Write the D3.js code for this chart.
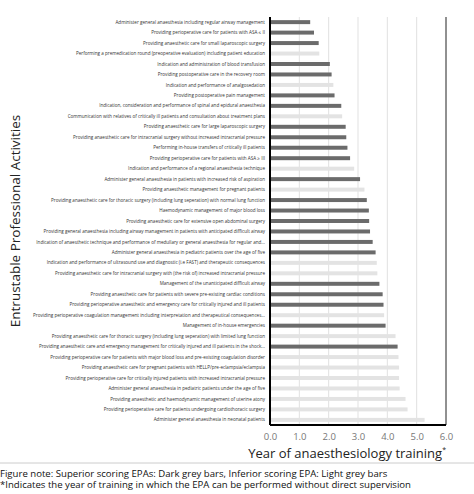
<!DOCTYPE html>
<html>
<head>
<meta charset="UTF-8">
<script src="https://d3js.org/d3.v7.min.js"></script>
<style>
  body { margin: 0; background: #fff; }
  text { font-family: "Open Sans", "DejaVu Sans", sans-serif; }
</style>
</head>
<body>
<script>
  // EPA labels (top to bottom)
  const labels = [
    "Administer general anaesthesia including regular airway management",
    "Providing perioperative care for patients with ASA ≤ II",
    "Providing anaesthetic care for small laparoscopic surgery",
    "Performing a premedication round (preoperative evaluation) including patient education",
    "Indication and administration of blood transfusion",
    "Providing postoperative care in the recovery room",
    "Indication and performance of analgosedation",
    "Providing postoperative pain management",
    "Indication, consideration and performance of spinal and epidural anaesthesia",
    "Communication with relatives of critically ill patients and consultation about treatment plans",
    "Providing anaesthetic care for large laparoscopic surgery",
    "Providing anaesthetic care for intracranial surgery without increased intracranial pressure",
    "Performing in-house transfers of critically ill patients",
    "Providing perioperative care for patients with ASA ≥ III",
    "Indication and performance of a regional anaesthesia technique",
    "Administer general anaesthesia in patients with increased risk of aspiration",
    "Providing anaesthetic management for pregnant patients",
    "Providing anaesthetic care for thoracic surgery (including lung seperation) with normal lung function",
    "Haemodynamic management of major blood loss",
    "Providing anaesthetic care for extensive open abdominal surgery",
    "Providing general anaesthesia including airway management in patients with anticipated difficult airway",
    "Indication of anaesthetic technique and performance of medullary or general anaesthesia for regular and...",
    "Administer general anaesthesia in pediatric patients over the age of five",
    "Indication and performance of ultrasound use and diagnostic (i.e FAST) and therapeutic consequences",
    "Providing anaesthetic care for intracranial surgery with (the risk of) increased intracranial pressure",
    "Management of the unanticipated difficult airway",
    "Providing anaesthetic care for patients with severe pre-existing cardiac conditions",
    "Providing perioperative anaesthetic and emergency care for critically injured and ill patients",
    "Providing perioperative coagulation management including interpretation and therapeutical consequences...",
    "Management of in-house emergencies",
    "Providing anaesthetic care for thoracic surgery (including lung seperation) with limited lung function",
    "Providing anaesthetic care and emergency management for critically injured and ill patients in the shock...",
    "Providing perioperative care for patients with major blood loss and pre-existing coagulation disorder",
    "Providing anaesthetic care for pregnant patients with HELLP/pre-eclampsia/eclampsia",
    "Providing perioperative care for critically injured patients with increased intracranial pressure",
    "Administer general anaesthesia in pediatric patients under the age of five",
    "Providing anaesthetic and haemodynamic management of uterine atony",
    "Providing perioperative care for patients undergoing cardiothoracic surgery",
    "Administer general anaesthesia in neonatal patients"
  ];
  // year of training
  const years = [1.37, 1.5, 1.66, 1.68, 2.04, 2.1, 2.16, 2.2, 2.43, 2.46, 2.58, 2.6, 2.64,
    2.73, 2.87, 3.07, 3.22, 3.3, 3.37, 3.38, 3.41, 3.5, 3.6, 3.64, 3.66, 3.73, 3.84, 3.87,
    3.89, 3.94, 4.28, 4.35, 4.38, 4.4, 4.4, 4.42, 4.62, 4.69, 5.27];
  // 1 = superior (dark), 0 = inferior (light)
  const superior = [1, 1, 1, 0, 1, 1, 0, 1, 1, 0, 1, 1, 1, 1, 0, 1, 0, 1, 1, 1, 1, 1, 1, 0, 0,
    1, 1, 1, 0, 1, 0, 1, 0, 0, 0, 0, 0, 0, 0];
  const xTicks = [0, 1, 2, 3, 4, 5, 6];

  const W = 474, H = 494;
  const mLeft = 270, mRight = 446, mTop = 17, mBottom = 425;

  const svg = d3.select("body").append("svg").attr("width", W).attr("height", H);

  const x = d3.scaleLinear().domain([0, 6]).range([mLeft, mRight]);
  const y = d3.scaleBand().domain(d3.range(labels.length)).range([mTop, mBottom]).paddingInner(0.62).paddingOuter(0.3);

  // gridlines
  svg.append("g").selectAll("line").data(xTicks.slice(1)).join("line")
    .attr("x1", d => x(d)).attr("x2", d => x(d))
    .attr("y1", mTop).attr("y2", mBottom)
    .attr("stroke", d => d === 6 ? "#222" : "#d9d9d9")
    .attr("stroke-width", d => d === 6 ? 1 : 0.8);

  // bars
  svg.append("g").selectAll("rect").data(years).join("rect")
    .attr("x", x(0) + 1)
    .attr("y", (d, i) => y(i))
    .attr("width", d => x(d) - x(0) - 1)
    .attr("height", y.bandwidth())
    .attr("fill", (d, i) => superior[i] ? "#6b6b6b" : "#e3e3e3");

  // category labels
  svg.append("g").selectAll("text").data(labels).join("text")
    .attr("x", mLeft - 5)
    .attr("y", (d, i) => y(i) + y.bandwidth() / 2)
    .attr("dy", "0.35em")
    .attr("text-anchor", "end")
    .attr("font-size", 4.6)
    .attr("fill", "#333")
    .text(d => d);

  // frame lines
  svg.append("line").attr("x1", mLeft).attr("x2", mLeft).attr("y1", mTop).attr("y2", mBottom)
    .attr("stroke", "#000").attr("stroke-width", 2);
  svg.append("line").attr("x1", mLeft).attr("x2", mRight).attr("y1", mBottom).attr("y2", mBottom)
    .attr("stroke", "#000").attr("stroke-width", 2);

  // x axis
  const xAxis = svg.append("g").attr("transform", `translate(0,${mBottom})`)
    .call(d3.axisBottom(x).tickValues(xTicks).tickSize(0).tickPadding(8));
  xAxis.select(".domain").remove();
  xAxis.selectAll("text").attr("font-size", 9.5).attr("fill", "#777")
    .attr("font-family", "'Open Sans', sans-serif");

  const xt = svg.append("text").attr("x", mRight).attr("y", 458).attr("text-anchor", "end")
    .attr("font-size", 13).attr("fill", "#222");
  xt.append("tspan").text("Year of anaesthesiology training");
  xt.append("tspan").attr("font-size", 7).attr("dy", -6).text("*");

  // y title
  svg.append("text")
    .attr("transform", `translate(20,${(mTop + mBottom) / 2}) rotate(-90)`)
    .attr("text-anchor", "middle")
    .attr("font-size", 13.5).attr("fill", "#222")
    .text("Entrustable Professional Activities");

  // separator + notes
  svg.append("line").attr("x1", 0).attr("x2", W).attr("y1", 463).attr("y2", 463)
    .attr("stroke", "#ccc").attr("stroke-width", 1);
  svg.append("text").attr("x", 0).attr("y", 477).attr("font-size", 9.6)
    .attr("font-family", "'Liberation Sans', Arial, sans-serif").attr("fill", "#111")
    .text("Figure note: Superior scoring EPAs: Dark grey bars, Inferior scoring EPA: Light grey bars");
  svg.append("text").attr("x", 0).attr("y", 488).attr("font-size", 9.6)
    .attr("font-family", "'Liberation Sans', Arial, sans-serif").attr("fill", "#111")
    .text("*Indicates the year of training in which the EPA can be performed without direct supervision");
</script>
</body>
</html>
